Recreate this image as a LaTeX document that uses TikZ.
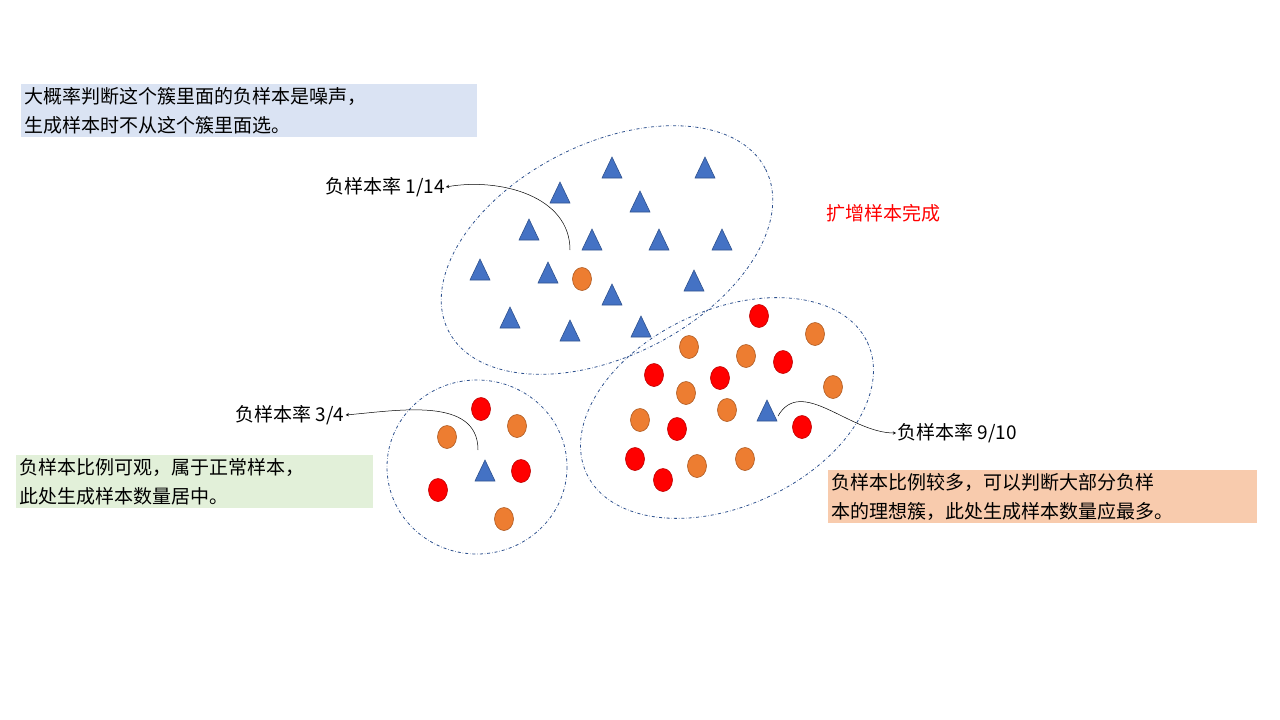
\documentclass[tikz,border=0pt]{standalone}
\usepackage{fontspec}
\setmainfont{Noto Sans CJK SC}
\begin{document}
\begin{tikzpicture}[x=1pt,y=-1pt,
 tri/.style={fill={rgb,255:red,68;green,114;blue,196},draw={rgb,255:red,47;green,82;blue,143},line width=0.6pt},
 org/.style={fill={rgb,255:red,237;green,125;blue,49},draw={rgb,255:red,174;green,90;blue,33},line width=0.6pt},
 redc/.style={fill=red,draw={rgb,255:red,190;green,0;blue,0},line width=0.6pt},
 clus/.style={draw={rgb,255:red,47;green,82;blue,143},dash dot,line width=0.8pt},
 lab/.style={font=\fontsize{19pt}{22pt}\selectfont,inner sep=1pt},
 box/.style={font=\fontsize{19pt}{29pt}\selectfont,align=left,anchor=north west,inner sep=3pt,text width=#1},
 arr/.style={->,>=stealth,line width=0.5pt}]
\useasboundingbox (0,0) rectangle (1280,720);
\fill[white] (0,0) rectangle (1280,720);
\draw[clus] (607,250) [rotate around={27:(607,250)}] ellipse (178 and 106);
\draw[clus] (477,467) ellipse (90 and 87);
\draw[clus] (727,408) [rotate around={25:(727,408)}] ellipse (155 and 98);
\foreach \x/\y in {612/168,705/168,560/193,640/202,529/230,592/240,659/240,722/240,480/270,548/273,694/281,612/295,510/318,570/331,641/327,485/471,767/411}
  \fill[tri] (\x-10,\y+10) -- (\x+10,\y+10) -- (\x,\y-11) -- cycle;
\foreach \x/\y in {582/279,689/347,746/356,815/334,686/393,833/387,727/410,640/420,697/466,745/459,447/437,517/426,504/519}
  \filldraw[org] (\x,\y) ellipse (9.5 and 11.5);
\foreach \x/\y in {759/316,783/362,654/375,720/378,677/429,802/427,635/459,663/480,481/409,521/471,438/490}
  \filldraw[redc] (\x,\y) ellipse (9.5 and 11.5);
\node[lab] (l1) at (385,187) {负样本率 1/14};
\node[lab] (l2) at (290,415) {负样本率 3/4};
\node[lab] (l3) at (957,433) {负样本率 9/10};
\node[lab,text=red] (l4) at (883,213) {扩增样本完成};
\coordinate (s1) at (570,250);
\coordinate (s2) at (478,450);
\coordinate (s3) at (778,416);
\draw[arr] (s1) to[out=90,in=10] (l1.east);
\draw[arr] (s2) to[out=90,in=5] (l2.east);
\draw[arr] (s3) to[out=60,in=180] (l3.west);
\node[box=450pt,fill={rgb,255:red,218;green,227;blue,243}] (b1) at (21,84) {大概率判断这个簇里面的负样本是噪声，\\生成样本时不从这个簇里面选。};
\node[box=351pt,fill={rgb,255:red,226;green,240;blue,217}] (b2) at (16,455) {负样本比例可观，属于正常样本，\\此处生成样本数量居中。};
\node[box=423pt,fill={rgb,255:red,248;green,203;blue,173}] (b3) at (828,470) {负样本比例较多，可以判断大部分负样\\本的理想簇，此处生成样本数量应最多。};
\end{tikzpicture}
\end{document}
